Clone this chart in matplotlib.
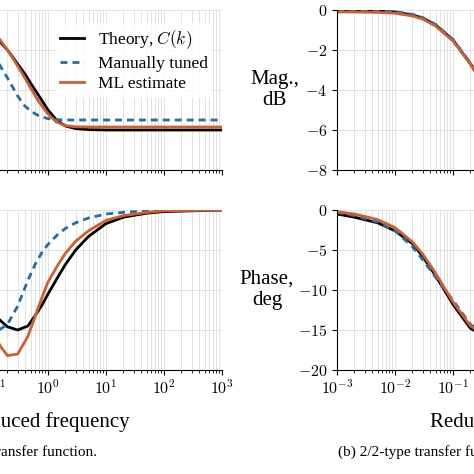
import matplotlib
matplotlib.use("Agg")
import matplotlib.pyplot as plt
import numpy as np

plt.rcParams['font.family'] = ['Liberation Serif', 'DejaVu Serif']
plt.rcParams['mathtext.fontset'] = 'cm'

BLACK = '#000000'
BLUE = '#1f6fa6'
ORANGE = '#cf5f2e'

# (a) left panel (arbitrary units for magnitude)
a_freq = [1e-3, 1e-2, 0.05, 0.1, 0.15, 0.2, 0.3, 0.4, 0.5, 0.7, 1.0, 1.4, 2, 3, 5, 10, 30, 100, 1000]
a_mag_theory = [7.9, 7.9, 7.6, 7.0, 6.4, 6.0, 5.3, 4.8, 4.35, 3.7, 3.0, 2.5, 2.2, 2.07, 2.02, 2.0, 2.0, 2.0, 2.0]
a_mag_manual = [7.9, 7.8, 7.2, 6.1, 5.2, 4.6, 3.7, 3.2, 2.95, 2.7, 2.57, 2.52, 2.5, 2.5, 2.5, 2.5, 2.5, 2.5, 2.5]
a_mag_ml = [7.9, 7.9, 7.6, 7.0, 6.5, 6.0, 5.2, 4.6, 4.1, 3.4, 2.8, 2.4, 2.22, 2.16, 2.15, 2.15, 2.15, 2.15, 2.15]
a_ph_freq = [1e-3, 1e-2, 0.05, 0.1, 0.15, 0.2, 0.3, 0.45, 0.6, 0.8, 1.0, 1.5, 2, 3, 5, 10, 20, 50, 100, 1000]
a_ph_theory = [-2, -5, -10, -12.5, -13.8, -14.6, -15.0, -14.5, -13.2, -11.8, -10.5, -8.3, -6.8, -5.0, -3.3, -1.7, -0.9, -0.4, -0.2, 0.0]
a_ph_manual = [-2, -6, -12, -14.5, -14.9, -14.3, -12.0, -8.8, -6.8, -5.2, -4.3, -3.0, -2.3, -1.6, -1.0, -0.5, -0.3, -0.1, 0.0, 0.0]
a_ph_ml = [-2, -5, -11, -14.5, -17.0, -18.2, -18.0, -15.8, -13.3, -10.8, -9.0, -6.8, -5.4, -3.9, -2.6, -1.3, -0.7, -0.3, -0.1, 0.0]

# (b) right panel
b_freq = [1e-3, 2e-3, 5e-3, 1e-2, 2e-2, 3e-2, 5e-2, 0.1, 0.2, 0.3, 0.5, 1, 10, 1000]
b_mag_theory = [-0.02, -0.03, -0.05, -0.1, -0.25, -0.4, -0.75, -1.5, -2.7, -3.5, -4.5, -5.5, -6.0, -6.0]
b_mag_manual = [0.0, -0.01, -0.03, -0.08, -0.22, -0.38, -0.72, -1.48, -2.65, -3.4, -4.4, -5.4, -6.0, -6.0]
b_mag_ml = [-0.1, -0.1, -0.12, -0.16, -0.3, -0.45, -0.8, -1.55, -2.7, -3.5, -4.5, -5.5, -6.0, -6.0]
b_ph_theory = [-0.5, -0.9, -1.6, -2.6, -4.2, -5.8, -8.2, -11.8, -14.8, -15.5, -14.5, -11, -3, 0]
b_ph_manual = [-0.3, -0.7, -1.5, -2.6, -4.6, -6.2, -8.4, -11.3, -14.3, -15.2, -14.3, -11, -3, 0]
b_ph_ml = [-0.2, -0.5, -1.2, -2.2, -4.0, -5.5, -7.9, -11.5, -14.5, -15.3, -14.4, -11, -3, 0]

W = H = 474.0
fig = plt.figure(figsize=(4.74, 4.74), dpi=100)


def make_ax(x0, x1, ytop, ybot):
    ax = fig.add_axes([x0 / W, 1 - ybot / H, (x1 - x0) / W, (ybot - ytop) / H])
    ax.set_xscale('log')
    ax.set_xlim(1e-3, 1e3)
    ax.grid(True, which='both', color='#dddddd', lw=0.6)
    ax.set_axisbelow(True)
    for s in ['top', 'right']:
        ax.spines[s].set_visible(False)
    ax.tick_params(labelsize=11.5)
    return ax


def style_curves(ax, f, th, man, ml):
    ax.plot(f, th, color=BLACK, lw=2.0, label='Theory, $C(k)$')
    ax.plot(f, man, color=BLUE, lw=2.0, ls=(0, (2.5, 1.8)), label='Manually tuned')
    ax.plot(f, ml, color=ORANGE, lw=2.0, label='ML estimate')


decades = [1e-3, 1e-2, 1e-1, 1e0, 1e1, 1e2, 1e3]
dec_labels = ['$10^{-3}$', '$10^{-2}$', '$10^{-1}$', '$10^{0}$', '$10^{1}$', '$10^{2}$', '$10^{3}$']

# left panel (mostly off canvas)
axa1 = make_ax(-126, 222, 10, 170)
style_curves(axa1, a_freq, a_mag_theory, a_mag_manual, a_mag_ml)
axa1.set_ylim(0, 8)
axa1.set_xticks(decades)
axa1.set_xticklabels([])
leg = axa1.legend(loc='upper right', fontsize=12.5, frameon=True, fancybox=False,
                  edgecolor='none', handlelength=1.4, borderpad=0.3, labelspacing=0.25,
                  bbox_to_anchor=(1.0, 0.97))

axa2 = make_ax(-126, 222, 210, 370)
style_curves(axa2, a_ph_freq, a_ph_theory, a_ph_manual, a_ph_ml)
axa2.set_ylim(-20, 0)
axa2.set_xticks(decades)
axa2.set_xticklabels(dec_labels)
axa2.set_xlabel('Reduced frequency', fontsize=15, labelpad=10)

# right panel (partly off canvas)
axb1 = make_ax(337, 685, 10, 170)
style_curves(axb1, b_freq, b_mag_theory, b_mag_manual, b_mag_ml)
axb1.set_ylim(-8, 0)
axb1.set_yticks([0, -2, -4, -6, -8])
axb1.set_yticklabels(['$0$', '$-2$', '$-4$', '$-6$', '$-8$'])
axb1.set_xticks(decades)
axb1.set_xticklabels([])
axb1.set_ylabel('Mag.,\ndB', fontsize=15, rotation=0, ha='center', va='center', labelpad=22)

axb2 = make_ax(337, 685, 210, 370)
style_curves(axb2, b_freq, b_ph_theory, b_ph_manual, b_ph_ml)
axb2.set_ylim(-20, 0)
axb2.set_yticks([0, -5, -10, -15, -20])
axb2.set_yticklabels(['$0$', '$-5$', '$-10$', '$-15$', '$-20$'])
axb2.set_xticks(decades)
axb2.set_xticklabels(dec_labels)
axb2.set_ylabel('Phase,\ndeg', fontsize=15, rotation=0, ha='center', va='center', labelpad=22)
axb2.set_xlabel('Reduced frequency', fontsize=15, labelpad=10)

fig.text(97 / W, 1 - 452 / H, '(a) 1/1-type transfer function.', fontsize=11, ha='right', va='center')
fig.text(338 / W, 1 - 452 / H, '(b) 2/2-type transfer function.', fontsize=11, ha='left', va='center')

fig.savefig('out.png', dpi=100)
